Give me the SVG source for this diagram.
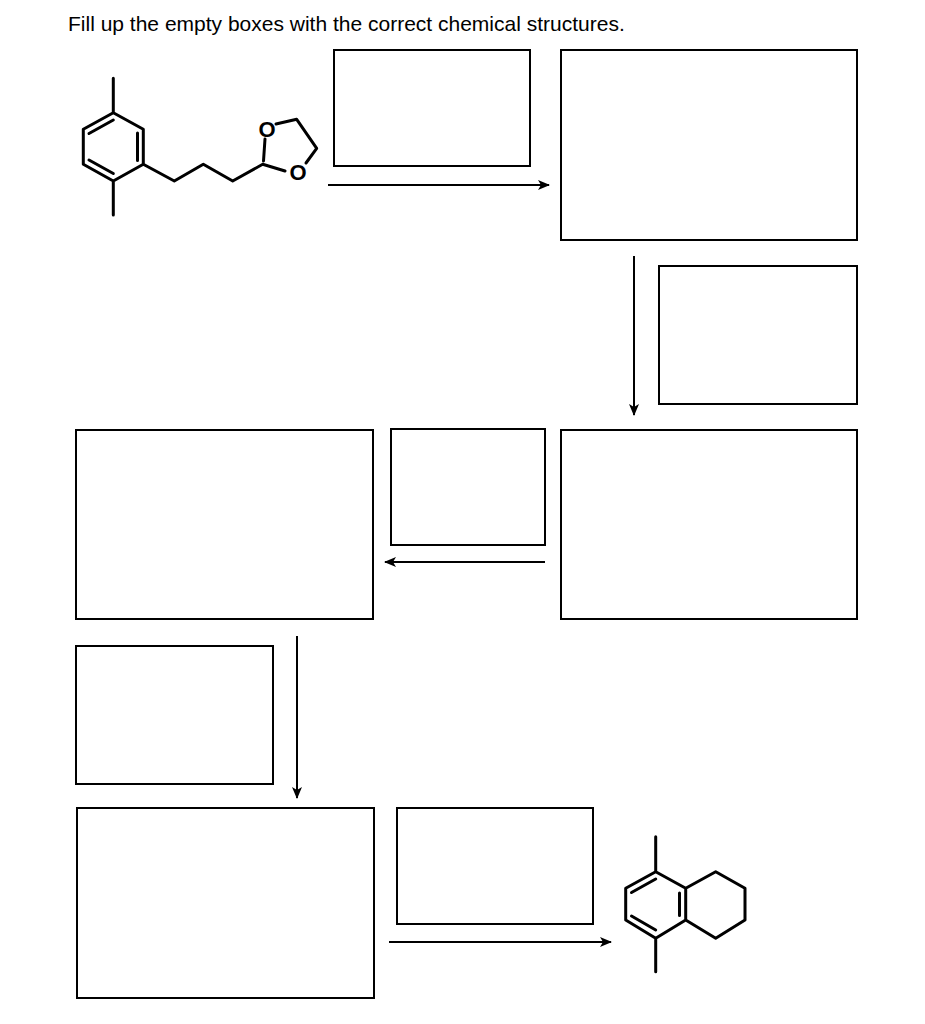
<svg xmlns="http://www.w3.org/2000/svg" width="925" height="1024" viewBox="0 0 925 1024">
<style>
.b{fill:none;stroke:#000;stroke-width:2}
.m{fill:none;stroke:#000;stroke-width:3;stroke-linejoin:round;stroke-linecap:round}
.a{stroke:#000;stroke-width:2;marker-end:url(#ah)}
.t{font-family:"Liberation Sans",Arial,sans-serif;font-size:21px}
.o{font-family:"Liberation Sans",Arial,sans-serif;font-size:22px;font-weight:bold;text-anchor:middle}
</style>
<defs><marker id="ah" markerWidth="12" markerHeight="10" refX="11" refY="5" orient="auto" markerUnits="userSpaceOnUse"><path d="M0,0 L12,5 L0,10 L3,5 Z"/></marker></defs>
<rect width="925" height="1024" fill="#fff"/>
<text class="t" x="68" y="31">Fill up the empty boxes with the correct chemical structures.</text>
<g id="boxes">
<rect id="box1" class="b" x="334" y="50" width="196" height="116"/>
<rect id="box2" class="b" x="561" y="50" width="296" height="190"/>
<rect id="box3" class="b" x="659" y="266" width="198" height="138"/>
<rect id="box4" class="b" x="76" y="430" width="297" height="189"/>
<rect id="box5" class="b" x="391" y="429" width="154" height="116"/>
<rect id="box6" class="b" x="561" y="430" width="296" height="189"/>
<rect id="box7" class="b" x="76" y="646" width="197" height="138"/>
<rect id="box8" class="b" x="77" y="808" width="297" height="190"/>
<rect id="box9" class="b" x="397" y="808" width="196" height="116"/>
</g>
<g id="connectors">
<line class="a" x1="328" y1="185" x2="549" y2="185"/>
<line class="a" x1="634" y1="256" x2="634" y2="415"/>
<line class="a" x1="545" y1="562" x2="385" y2="562"/>
<line class="a" x1="297" y1="636" x2="297" y2="798"/>
<line class="a" x1="389" y1="942" x2="611" y2="942"/>
</g>
<g id="start-molecule">
<path class="m" d="M113.3,112.7 L143.3,129.3 L143.3,164.3 L113.3,181 L83.3,164.3 L83.3,129.3 Z M113.3,78.3 L113.3,112.7 M113.3,181 L113.3,215 M143.3,164.3 L174.3,181 L203.3,164.3 L232.7,181 L262.7,164.3 L285,171"/>
<path class="m" d="M263.5,161 L265,139 M276,124 L296.7,119.3 L316.7,148.3 L306,163"/>
<path class="m" d="M113.3,120 L89,133.5 M137.5,133 L137.5,160.5 M89,160 L113.3,173.5"/>
<text class="o" x="267" y="137">O</text>
<text class="o" x="298" y="180">O</text>
</g>
<g id="product-molecule">
<path class="m" d="M655.7,871.7 L685.7,888.3 L685.7,920 L655.7,938.3 L625.7,920 L625.7,888.3 Z M655.7,836.7 L655.7,871.7 M655.7,938.3 L655.7,971.7 M685.7,888.3 L715.7,871.7 L745,888.3 L745,920 L715.7,938.3 L685.7,920"/>
<path class="m" d="M655.7,879 L631.5,892.5 M679.5,893 L679.5,915.5 M631.5,916 L655.7,930"/>
</g>
</svg>
